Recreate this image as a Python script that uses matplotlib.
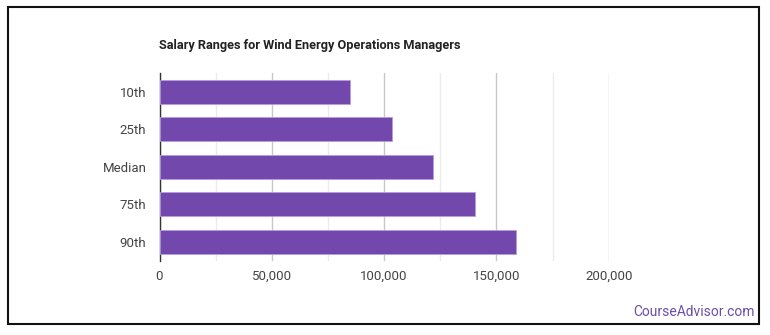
import matplotlib.pyplot as plt
from matplotlib.patches import Rectangle
from matplotlib.ticker import FuncFormatter, MultipleLocator

plt.rcParams['font.family'] = ['Roboto', 'DejaVu Sans']

# Salary data
categories = ['10th', '25th', 'Median', '75th', '90th']
salaries = [85000, 103600, 121800, 140400, 158600]
title = 'Salary Ranges for Wind Energy Operations Managers'

fig = plt.figure(figsize=(7.7, 3.35), dpi=100)
ax = fig.add_axes([159.5 / 770, (335 - 260.5) / 335, 449.2 / 770, 187.5 / 335])

ypos = list(range(len(categories)))
ax.barh(ypos, salaries, height=0.64, color='#7248ad', edgecolor='#b89de0', linewidth=0.6, zorder=3)
ax.set_yticks(ypos)
ax.set_yticklabels(categories)
ax.set_ylim(len(categories) - 0.5, -0.5)
ax.set_xlim(0, 200000)

ax.xaxis.set_major_locator(MultipleLocator(50000))
ax.xaxis.set_minor_locator(MultipleLocator(25000))
ax.xaxis.set_major_formatter(FuncFormatter(lambda v, p: f'{int(v):,}'))
ax.grid(axis='x', which='major', color='#c8c8c8', linewidth=1, zorder=0)
ax.grid(axis='x', which='minor', color='#ebebeb', linewidth=1, zorder=0)

for s in ['top', 'right', 'bottom']:
    ax.spines[s].set_visible(False)
ax.spines['left'].set_color('#333333')
ax.spines['left'].set_linewidth(1)

ax.tick_params(axis='both', which='both', length=0, labelsize=9.5, colors='#444444')
ax.tick_params(axis='y', pad=9.5)
ax.tick_params(axis='x', pad=7)

fig.text(159 / 770, 1 - 45 / 335, title, fontsize=9.2, fontweight='bold', color='#222222',
         ha='left', va='center')
fig.text(755 / 770, 1 - 312 / 335, 'CourseAdvisor.com', fontsize=10, color='#6a4fa8',
         ha='right', va='center')

fig.patches.append(Rectangle((8 / 770, 1 - 324 / 335), 751 / 770, 317 / 335,
                             transform=fig.transFigure, fill=False, edgecolor='#111111',
                             linewidth=1.5))

fig.savefig('out.png', dpi=100)
